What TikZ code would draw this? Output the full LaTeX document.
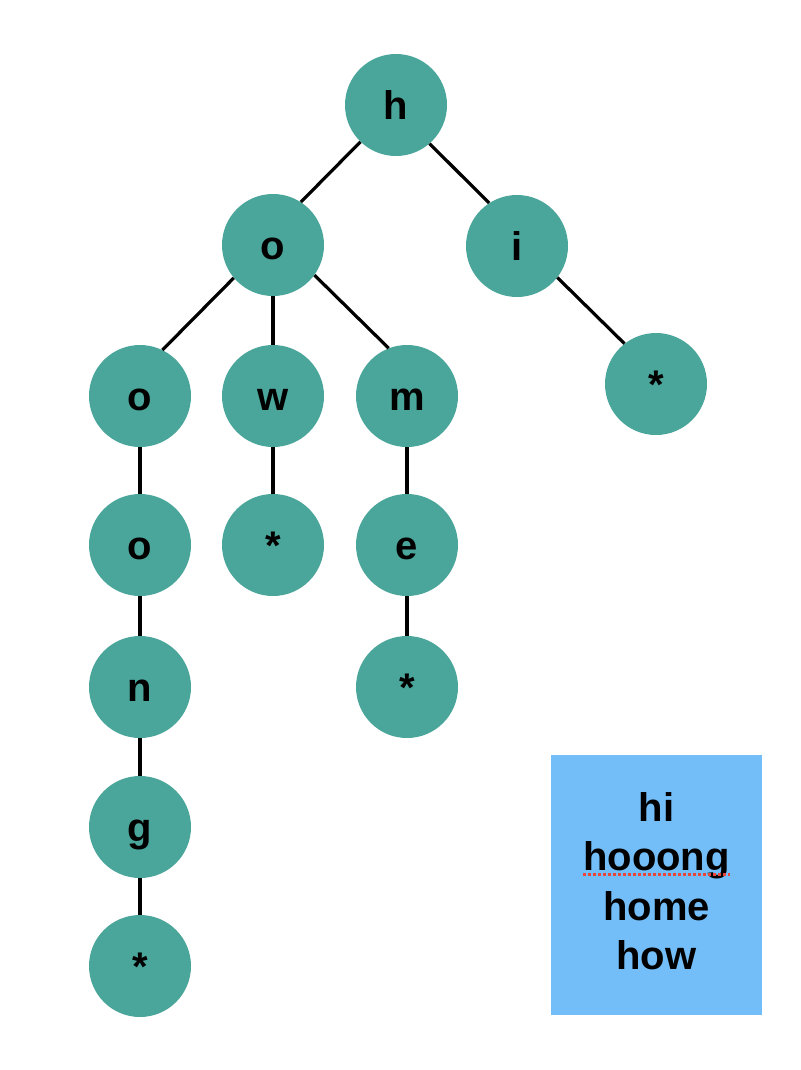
\documentclass[tikz,border=0pt]{standalone}
\usepackage{fontspec}
\setmainfont{Liberation Sans}
\definecolor{teal1}{RGB}{74,165,155}
\definecolor{box1}{RGB}{115,190,248}
\definecolor{spell}{RGB}{232,70,58}
\begin{document}
\begin{tikzpicture}[x=1pt,y=-1pt,
  trienode/.style={circle,fill=teal1,minimum size=102pt,inner sep=0pt,
    font=\fontsize{40}{40}\selectfont\bfseries,text height=29pt,text depth=0pt},
  edge/.style={line width=3.2pt,black},
  wordbox/.style={rectangle,fill=box1,minimum width=211pt,minimum height=260pt,inner sep=0pt,
    align=center,font=\fontsize{40}{49.5}\selectfont\bfseries}]
\useasboundingbox (0,0) rectangle (800,1070);
\fill[white] (0,0) rectangle (800,1070);
% nodes
\node[trienode] (h) at (396,105) {h};
\node[trienode] (o) at (273,245) {o};
\node[trienode] (i) at (517,246) {i};
\node[trienode] (oo) at (140,396) {o};
\node[trienode] (w) at (273,396) {w};
\node[trienode] (m) at (407,396) {m};
\node[trienode] (istar) at (656,384) {*};
\node[trienode] (ooo) at (140,545) {o};
\node[trienode] (wstar) at (273,545) {*};
\node[trienode] (e) at (407,545) {e};
\node[trienode] (n) at (140,687) {n};
\node[trienode] (estar) at (407,687) {*};
\node[trienode] (g) at (140,827) {g};
\node[trienode] (gstar) at (140,966) {*};
% edges
\draw[edge] (h.-134) -- (o.57);
\draw[edge] (h.-49) -- (i.123);
\draw[edge] (o.-140) -- (oo.64);
\draw[edge] (o) -- (w);
\draw[edge] (o.-36) -- (m.111);
\draw[edge] (i.-38) -- (istar.128);
\draw[edge] (oo) -- (ooo);
\draw[edge] (ooo) -- (n);
\draw[edge] (n) -- (g);
\draw[edge] (g) -- (gstar);
\draw[edge] (w) -- (wstar);
\draw[edge] (m) -- (e);
\draw[edge] (e) -- (estar);
% word box
\fill[box1] (551,755) rectangle (762,1015);
\node[align=center,inner sep=0pt,font=\fontsize{40}{49.5}\selectfont\bfseries] (words) at (656.5,881) {hi\\hooong\\home\\how};
\coordinate (ula) at (583,874.5);
\coordinate (ulb) at (730,874.5);
\draw[spell,line width=2.4pt,dash pattern=on 3pt off 2pt] (ula) -- (ulb);
\end{tikzpicture}
\end{document}
